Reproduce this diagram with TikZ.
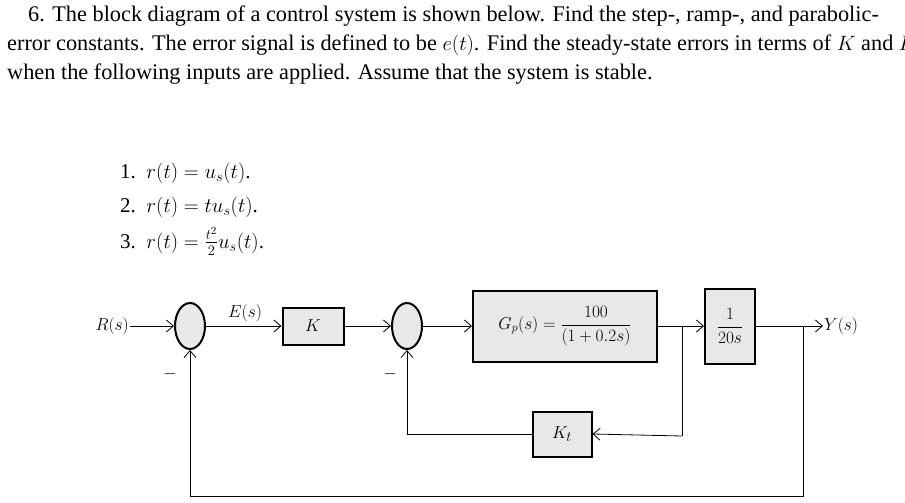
\documentclass[tikz,border=0pt]{standalone}
\usepackage{amsmath}
\usepackage{fontspec}
\setmainfont{Liberation Serif}
\usetikzlibrary{arrows.meta,shapes.geometric}
\begin{document}
\begin{tikzpicture}[x=1pt,y=-1pt,
  txt/.style={anchor=base west,inner sep=0pt,font=\fontsize{22.3}{26}\selectfont},
  blk/.style={draw,line width=2pt,fill=gray!18,inner sep=0pt},
  sum/.style={draw,line width=2pt,fill=gray!18,ellipse,minimum width=30,minimum height=46},
  lab/.style={inner sep=1pt,font=\fontsize{19}{21}\selectfont},
  arr/.style={-{Straight Barb[length=7pt,width=12pt]},line width=0.8pt},
  ln/.style={line width=0.8pt}]
\useasboundingbox (0,0) rectangle (905,503);
\node[txt] (t1) at (28,22) {6. The block diagram of a control system is shown below. Find the step-, ramp-, and parabolic-};
\node[txt] (t2) at (7,51) {error constants. The error signal is defined to be $e(t)$. Find the steady-state errors in terms of $K$ and $K_t$};
\node[txt] (t3) at (7,80) {when the following inputs are applied. Assume that the system is stable.};
\node[txt,font=\fontsize{21}{24}\selectfont] (l1) at (120,178) {1.\ \ $r(t)=u_s(t)$.};
\node[txt,font=\fontsize{21}{24}\selectfont] (l2) at (120,212) {2.\ \ $r(t)=tu_s(t)$.};
\node[txt,font=\fontsize{21}{24}\selectfont] (l3) at (120,248) {3.\ \ $r(t)=\frac{t^2}{2}u_s(t)$.};
\node[sum] (s1) at (190,326) {};
\node[sum] (s2) at (407,326) {};
\node[blk,minimum width=61,minimum height=37] (k) at (313,326) {\fontsize{19}{21}\selectfont$K$};
\node[blk,minimum width=184,minimum height=71] (gp) at (565,326) {\fontsize{18}{21}\selectfont$G_p(s)=\dfrac{100}{(1+0.2s)}$};
\node[blk,minimum width=50,minimum height=75] (g2) at (730,326) {\fontsize{18}{21}\selectfont$\dfrac{1}{20s}$};
\node[blk,minimum width=59,minimum height=45] (kt) at (562,434) {\fontsize{19}{21}\selectfont$K_t$};
\node[lab,anchor=east] (r) at (130,326) {$R(s)$};
\node[lab,anchor=west] (y) at (823,326) {$Y(s)$};
\node[lab] (e) at (245,313) {$E(s)$};
\node[lab] (m1) at (170,374) {$-$};
\node[lab] (m2) at (390,374) {$-$};
\draw[arr] (r.east) -- (s1.west);
\draw[arr] (s1.east) -- (k.west);
\draw[arr] (k.east) -- (s2.west);
\draw[arr] (s2.east) -- (gp.west);
\draw[arr] (gp.east) -- (g2.west);
\draw[arr] (g2.east) -- (y.west);
\coordinate (p1) at (682,326);
\coordinate (p2) at (682,436);
\draw[ln] (p1) -- (p2);
\draw[arr] (p2) -- (kt.east);
\draw[arr] (kt.west) -| (s2.south);
\coordinate (q1) at (803,326);
\coordinate (q2) at (803,496);
\draw[arr] (q1) -- (q2) -| (s1.south);
\end{tikzpicture}
\end{document}
